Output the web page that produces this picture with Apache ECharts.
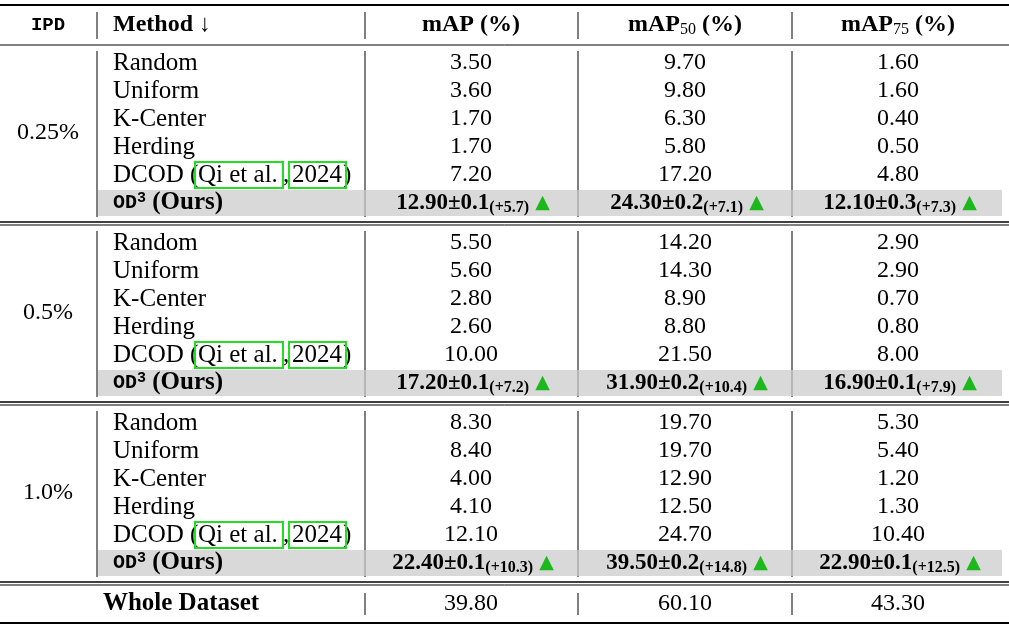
<!DOCTYPE html>
<html>
<head>
<meta charset="utf-8">
<script src="https://cdn.jsdelivr.net/npm/echarts@6/dist/echarts.min.js"></script>
<style>html,body{margin:0;background:#fff}#c{width:1009px;height:627px}</style>
</head>
<body>
<div id="c"></div>
<script>
const ipd = ['0.25%', '0.5%', '1.0%']
const methods = ['Random', 'Uniform', 'K-Center', 'Herding', 'DCOD']
// per group, per method: [mAP, mAP50, mAP75]
const baselines = [
  [['3.50', '9.70', '1.60'], ['3.60', '9.80', '1.60'], ['1.70', '6.30', '0.40'], ['1.70', '5.80', '0.50'], ['7.20', '17.20', '4.80']],
  [['5.50', '14.20', '2.90'], ['5.60', '14.30', '2.90'], ['2.80', '8.90', '0.70'], ['2.60', '8.80', '0.80'], ['10.00', '21.50', '8.00']],
  [['8.30', '19.70', '5.30'], ['8.40', '19.70', '5.40'], ['4.00', '12.90', '1.20'], ['4.10', '12.50', '1.30'], ['12.10', '24.70', '10.40']]
]
const oursMean = [['12.90', '24.30', '12.10'], ['17.20', '31.90', '16.90'], ['22.40', '39.50', '22.90']]
const oursStd = [['0.1', '0.2', '0.3'], ['0.1', '0.2', '0.1'], ['0.1', '0.2', '0.1']]
const oursGain = [['+5.7', '+7.1', '+7.3'], ['+7.2', '+10.4', '+7.9'], ['+10.3', '+14.8', '+12.5']]
const whole = ['39.80', '60.10', '43.30']

const serif = '"Liberation Serif", "DejaVu Serif", serif'
const mono = '"Liberation Mono", "DejaVu Sans Mono", monospace'
const colX = [97, 365, 578, 792]
const colC = [471, 685, 898]
const groupTop = [45, 225, 405]
const rowH = 28

const g = []
const line = (x1, y1, x2, y2, w) => g.push({ type: 'line', shape: { x1, y1, x2, y2 }, style: { stroke: '#000', lineWidth: w || 1 }, z: 5 })
const text = (x, y, t, opt) => g.push({ type: 'text', x, y, z: 10, style: Object.assign({ text: t, font: '25px ' + serif, fill: '#000', verticalAlign: 'middle', align: 'left' }, opt) })
const num = '24px ' + serif

// rules
line(0, 5, 1009, 5, 2)
line(0, 45, 1009, 45, 1)
;[222, 402, 582].forEach(y => { line(0, y, 1009, y, 1.5); line(0, y + 3, 1009, y + 3, 1) })
line(0, 623, 1009, 623, 2)

// header
text(48, 25, 'IPD', { font: 'bold 19px ' + mono, align: 'center' })
text(113, 25, 'Method ↓', { font: 'bold 24px ' + serif })
const hdr = ['', '50', '75']
hdr.forEach((s, i) => {
  g.push({ type: 'text', x: colC[i], y: 25, z: 10, style: {
    text: s ? '{b|mAP}{s|' + s + '}{b| (%)}' : '{b|mAP (%)}', align: 'center', verticalAlign: 'middle',
    rich: { b: { font: 'bold 24px ' + serif, fill: '#000' }, s: { font: '16px ' + serif, fill: '#000', padding: [10, 0, 0, 0] } }
  } })
})
colX.forEach(x => line(x, 12, x, 39))

groupTop.forEach((top, gi) => {
  const oursY = top + 18 + 5 * rowH
  g.push({ type: 'rect', shape: { x: 98, y: oursY - 13, width: 904, height: 26 }, style: { fill: '#d9d9d9' }, z: 1 })
  colX.forEach(x => line(x, top + 6, x, top + 172))
  ;[365, 578, 792].forEach(x => g.push({ type: 'line', shape: { x1: x, y1: oursY - 13, x2: x, y2: oursY + 13 }, style: { stroke: '#fff', lineWidth: 1 }, z: 6 }))
  text(48, top + 88, ipd[gi], { align: 'center', font: '24px ' + serif })
  methods.forEach((m, r) => {
    const y = top + 18 + r * rowH
    text(113, y, r === 4 ? m + ' (' : m)
    baselines[gi][r].forEach((v, c) => text(colC[c], y, v, { align: 'center', font: num }))
  })
  // citation boxes on DCOD row
  const dy = top + 18 + 4 * rowH
  text(198, dy, 'Qi et al.')
  text(283, dy, ',')
  text(292, dy, '2024')
  text(343, dy, ')')
  g.push({ type: 'rect', shape: { x: 195, y: dy - 13, width: 88, height: 26 }, style: { fill: 'none', stroke: '#22dd22', lineWidth: 2 }, z: 11 })
  g.push({ type: 'rect', shape: { x: 289, y: dy - 13, width: 57, height: 26 }, style: { fill: 'none', stroke: '#22dd22', lineWidth: 2 }, z: 11 })
  // ours row
  g.push({ type: 'text', x: 113, y: oursY, z: 10, style: {
    text: '{m|OD}{p|3}{b| (Ours)}', verticalAlign: 'middle',
    rich: { m: { font: 'bold 20px ' + mono, fill: '#000' }, p: { font: 'bold 15px ' + mono, fill: '#000', padding: [0, 0, 10, 0] }, b: { font: 'bold 25px ' + serif, fill: '#000' } }
  } })
  oursMean[gi].forEach((v, c) => {
    g.push({ type: 'text', x: colC[c] + 2, y: oursY, z: 10, style: {
      text: '{b|' + v + '±' + oursStd[gi][c] + '}{s|(' + oursGain[gi][c] + ')}{t| ▲}', align: 'center', verticalAlign: 'middle',
      rich: { b: { font: 'bold 23px ' + serif, fill: '#000' }, s: { font: 'bold 16px ' + serif, fill: '#000', padding: [10, 0, 0, 0] }, t: { font: '19px "DejaVu Sans", sans-serif', fill: '#1cb81c' } }
    } })
  })
})

// whole dataset
colX.slice(1).forEach(x => line(x, 593, x, 615))
text(181, 604, 'Whole Dataset', { font: 'bold 25px ' + serif, align: 'center' })
whole.forEach((v, c) => text(colC[c], 604, v, { align: 'center', font: num }))

const chart = echarts.init(document.getElementById('c'))
chart.setOption({ animation: false, graphic: { elements: g } })
</script>
</body>
</html>
